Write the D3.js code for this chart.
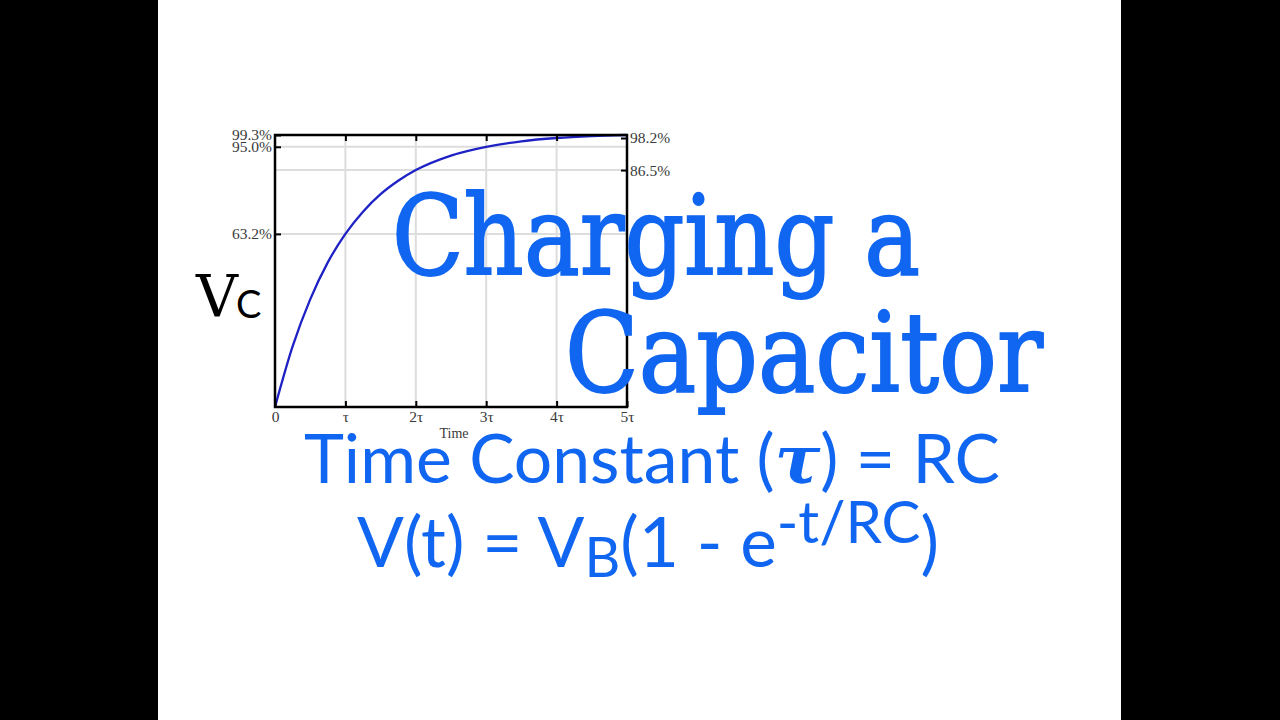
<!DOCTYPE html>
<html>
<head>
<meta charset="utf-8">
<script src="https://cdn.jsdelivr.net/npm/d3@7"></script>
<style>
  body { margin: 0; background: #000; }
  svg { display: block; }
</style>
</head>
<body>
<svg id="chart" width="1280" height="720"></svg>
<script>
// Curve (time in units of tau, fraction of full charge)
const timeValues = [0, 0.25, 0.5, 0.75, 1, 1.25, 1.5, 1.75, 2, 2.5, 3, 3.5, 4, 4.5, 5];
const chargeValues = [0, 0.221, 0.393, 0.528, 0.632, 0.713, 0.777, 0.826, 0.865, 0.918, 0.950, 0.970, 0.982, 0.989, 0.993];

// Axis ticks and labels
const xTicks = [0, 1, 2, 3, 4, 5];
const xTickLabels = ["0", "τ", "2τ", "3τ", "4τ", "5τ"];
const leftTicks = [0.993, 0.95, 0.632];
const leftTickLabels = ["99.3%", "95.0%", "63.2%"];
const rightTicks = [0.982, 0.865];
const rightTickLabels = ["98.2%", "86.5%"];
const gridY = [0.95, 0.865, 0.632];

const svg = d3.select("#chart");

// white page between the black side bars
svg.append("rect")
    .attr("x", 158).attr("y", 0)
    .attr("width", 1121 - 158).attr("height", 720)
    .attr("fill", "#fff");

const plot = { left: 275, right: 627, top: 135, bottom: 407 };

const x = d3.scaleLinear().domain([0, 5]).range([plot.left, plot.right]);
const y = d3.scaleLinear().domain([0, 0.993]).range([plot.bottom, plot.top]);

// grid
const grid = svg.append("g").attr("stroke", "#dddddd").attr("stroke-width", 2);
grid.selectAll("line.v")
    .data(xTicks.slice(1, -1))
    .enter().append("line")
    .attr("class", "v")
    .attr("x1", d => x(d)).attr("x2", d => x(d))
    .attr("y1", plot.top).attr("y2", plot.bottom);
grid.selectAll("line.h")
    .data(gridY)
    .enter().append("line")
    .attr("class", "h")
    .attr("x1", plot.left).attr("x2", plot.right)
    .attr("y1", d => y(d)).attr("y2", d => y(d));

// curve
const line = d3.line()
    .x((d, i) => x(timeValues[i]))
    .y(d => y(d))
    .curve(d3.curveMonotoneX);

svg.append("path")
    .datum(chargeValues)
    .attr("d", line)
    .attr("fill", "none")
    .attr("stroke", "#1e22c4")
    .attr("stroke-width", 2.3);

// axes
function styleAxis(g) {
    g.select(".domain").remove();
    g.selectAll(".tick line").attr("stroke", "#000").attr("stroke-width", 2);
    g.selectAll(".tick text")
        .attr("fill", "#3a3a3a")
        .style("font-family", "'Liberation Serif', serif")
        .style("font-size", "15.5px");
}

svg.append("g")
    .attr("transform", "translate(0," + plot.bottom + ")")
    .call(d3.axisBottom(x).tickValues(xTicks)
        .tickFormat((d, i) => xTickLabels[i])
        .tickSizeInner(-6).tickSizeOuter(0).tickPadding(4))
    .call(styleAxis);

svg.append("g")
    .attr("transform", "translate(0," + plot.top + ")")
    .call(d3.axisTop(x).tickValues(xTicks.slice(1, -1))
        .tickFormat("").tickSizeInner(-6).tickSizeOuter(0))
    .call(styleAxis);

svg.append("g")
    .attr("transform", "translate(" + plot.left + ",0)")
    .call(d3.axisLeft(y).tickValues(leftTicks)
        .tickFormat((d, i) => leftTickLabels[i])
        .tickSizeInner(-6).tickSizeOuter(0).tickPadding(3))
    .call(styleAxis);

svg.append("g")
    .attr("transform", "translate(" + plot.right + ",0)")
    .call(d3.axisRight(y).tickValues(rightTicks)
        .tickFormat((d, i) => rightTickLabels[i])
        .tickSizeInner(-6).tickSizeOuter(0).tickPadding(3))
    .call(styleAxis);

// frame
svg.append("rect")
    .attr("x", plot.left).attr("y", plot.top)
    .attr("width", plot.right - plot.left)
    .attr("height", plot.bottom - plot.top)
    .attr("fill", "none")
    .attr("stroke", "#000")
    .attr("stroke-width", 2.5);

svg.append("text")
    .attr("x", x(2.5) + 3)
    .attr("y", 438)
    .attr("text-anchor", "middle")
    .attr("fill", "#3a3a3a")
    .style("font-family", "'Liberation Serif', serif")
    .style("font-size", "14px")
    .text("Time");

// y label V_C
const vc = svg.append("text")
    .attr("x", 196).attr("y", 316)
    .attr("fill", "#000");
vc.append("tspan")
    .style("font-family", "'DejaVu Serif', serif")
    .style("font-size", "58px")
    .text("V");
vc.append("tspan")
    .attr("dx", -2)
    .attr("dy", 2)
    .style("font-family", "Lato, sans-serif")
    .style("font-size", "38px")
    .text("C");

// titles
const blue = "#1066f0";

function fit(sel, width) {
    const w = sel.node().getComputedTextLength();
    const fs = parseFloat(sel.style("font-size"));
    sel.style("font-size", (fs * width / w) + "px");
}

svg.append("text")
    .attr("x", 392).attr("y", 274)
    .attr("fill", blue)
    .attr("stroke", blue)
    .attr("stroke-width", 2)
    .attr("textLength", 528)
    .attr("lengthAdjust", "spacingAndGlyphs")
    .style("font-family", "'DejaVu Serif', serif")
    .style("font-size", "110px")
    .text("Charging a");

svg.append("text")
    .attr("x", 565).attr("y", 391)
    .attr("fill", blue)
    .attr("stroke", blue)
    .attr("stroke-width", 2)
    .attr("textLength", 478)
    .attr("lengthAdjust", "spacingAndGlyphs")
    .style("font-family", "'DejaVu Serif', serif")
    .style("font-size", "110px")
    .text("Capacitor");

const f1 = svg.append("text")
    .attr("x", 304).attr("y", 483)
    .attr("fill", blue)
    .style("font-family", "Lato, sans-serif")
    .style("font-size", "57px");
f1.append("tspan").text("Time Constant (");
f1.append("tspan")
    .style("font-family", "'DejaVu Serif', serif")
    .style("font-weight", "bold")
    .style("font-style", "italic")
    .text("τ");
f1.append("tspan").text(") = RC");
fit(f1, 696);

const f2 = svg.append("text")
    .attr("x", 357).attr("y", 567)
    .attr("fill", blue)
    .style("font-family", "Lato, sans-serif")
    .style("font-size", "57px");
f2.append("tspan").text("V(t) = V");
f2.append("tspan").attr("dy", 10).style("font-size", "0.8em").text("B");
f2.append("tspan").attr("dy", -10).text("(1 - e");
f2.append("tspan").attr("dy", -24).style("font-size", "0.84em").text("-t/RC");
f2.append("tspan").attr("dy", 24).text(")");
fit(f2, 582);
</script>
</body>
</html>
